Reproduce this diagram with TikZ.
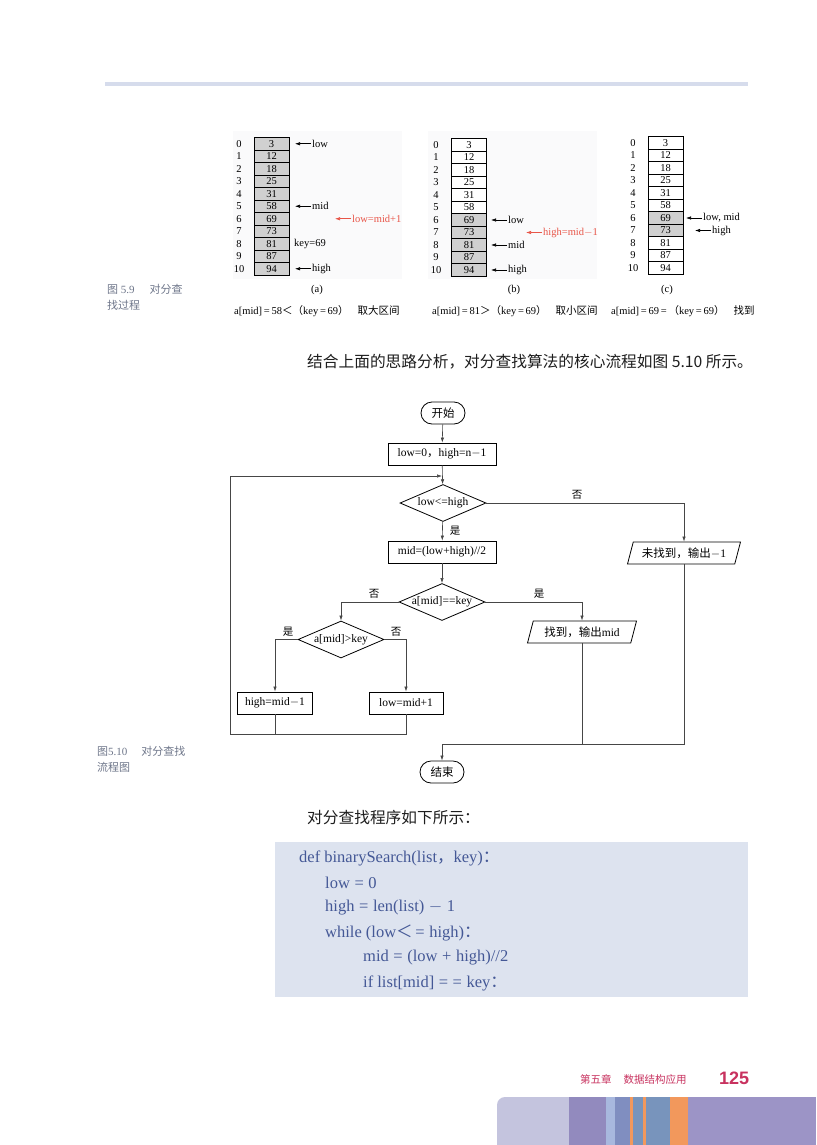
\documentclass[tikz,border=0pt]{standalone}
\usepackage{fontspec}
\setmainfont{Liberation Serif}
\newfontfamily\cjk{Noto Sans CJK SC}
\newfontfamily\sansb{Liberation Sans}
\usetikzlibrary{shapes.geometric,arrows.meta}
\definecolor{rulebl}{RGB}{214,220,236}
\definecolor{capcol}{RGB}{110,118,138}
\definecolor{redlab}{RGB}{232,85,72}
\definecolor{cellgr}{RGB}{208,208,208}
\definecolor{panel}{RGB}{250,250,251}
\definecolor{codebg}{RGB}{221,227,239}
\definecolor{codefg}{RGB}{68,88,150}
\definecolor{footpk}{RGB}{200,50,95}
\definecolor{barA}{RGB}{196,196,222}
\definecolor{barB}{RGB}{146,138,190}
\definecolor{barC}{RGB}{168,184,222}
\definecolor{barD}{RGB}{128,142,192}
\definecolor{barE}{RGB}{120,148,188}
\definecolor{barO}{RGB}{242,152,92}
\definecolor{barF}{RGB}{156,148,198}
\definecolor{txt}{RGB}{30,30,30}
\definecolor{lnk}{RGB}{70,70,70}
\newcommand{\fsa}{\fontsize{10.5}{12}\selectfont}
\newcommand{\fsb}{\fontsize{11.5}{13.5}\selectfont}
\newcommand{\fsc}{\fontsize{15.7}{18}\selectfont}
\newcommand{\fsd}{\fontsize{16.5}{19}\selectfont}
\newcommand{\fcap}{\fontsize{11}{13}\selectfont}
\tikzset{
  cell/.style={draw, line width=0.6pt, minimum width=35pt, minimum height=12.5pt, inner sep=0pt, font=\fsa},
  idx/.style={inner sep=0pt, font=\fsa},
  lab/.style={anchor=west, inner sep=1pt, font=\fsa},
  sarr/.style={line width=0.6pt, -{Latex[length=5pt,width=3.4pt]}},
  figcap/.style={anchor=west, inner sep=0pt, font=\fcap, text=capcol},
  proc/.style={draw, line width=0.8pt, minimum width=108pt, minimum height=22pt, inner sep=1pt, font=\fsb},
  dec/.style={draw, diamond, aspect=2.4, line width=0.8pt, minimum width=86pt, minimum height=37pt, inner sep=0pt, font=\fsb},
  term/.style={draw, rounded corners=11pt, line width=0.8pt, minimum width=44pt, minimum height=22pt, inner sep=1pt, font=\fsb\cjk},
  io/.style={draw, trapezium, trapezium left angle=66, trapezium right angle=114, trapezium stretches body=true, line width=0.8pt, minimum height=22pt, inner sep=1pt, font=\fsb},
  conn/.style={line width=0.6pt, draw=lnk},
  arr/.style={conn, -{Latex[length=5pt,width=3.4pt]}},
  yn/.style={inner sep=0pt, font=\fsa\cjk},
  codeln/.style={anchor=west, inner sep=0pt, font=\fsd, text=codefg},
}
\begin{document}
\begin{tikzpicture}[x=1pt,y=-1pt]
\useasboundingbox (0,0) rectangle (816,1145);
\fill[white] (0,0) rectangle (816,1145);
% top rule
\fill[rulebl] (105,82) rectangle (748,86);

% ---------- Figure 5.9 ----------
\fill[panel] (233,131) rectangle (402,279);
\fill[panel] (428,131) rectangle (597,279);
% (a)
\foreach \v [count=\i from 0] in {3,12,18,25,31,58,69,73,81,87,94}{
  \node[cell, fill=cellgr] (a\i) at (271.5,143.75+12.5*\i) {\v};
  \node[idx] (ai\i) at (239,143.75+12.5*\i) {\i};
}
\node[lab] (aLow) at (311,143.75) {low};
\draw[sarr] (aLow.west) -- ++(-16,0);
\node[lab] (aMid) at (311,206.25) {mid};
\draw[sarr] (aMid.west) -- ++(-16,0);
\node[lab] (aHigh) at (311,268.75) {high};
\draw[sarr] (aHigh.west) -- ++(-16,0);
\node[lab] (aKey) at (293,243.75) {key=69};
\node[lab, text=redlab] (aRed) at (351,218.75) {low=mid+1};
\draw[sarr, redlab] (aRed.west) -- ++(-16,0);
\node[inner sep=0pt, font=\fsa] (capA) at (317,290) {(a)};
\node[anchor=west, inner sep=0pt, font=\fsa] (resA) at (234,311) {a[mid]\,=\,58{\cjk ＜（}key\,=\,69{\cjk ）}\hspace{9pt}{\cjk 取大区间}};
% (b)
\foreach \v [count=\i from 0] in {3,12,18,25,31,58,69,73,81,87,94}{
  \ifnum\i>5 \def\fc{cellgr}\else\def\fc{white}\fi
  \node[cell, fill=\fc] (b\i) at (469,145+12.5*\i) {\v};
  \node[idx] (bi\i) at (436,145+12.5*\i) {\i};
}
\node[lab] (bLow) at (507,220) {low};
\draw[sarr] (bLow.west) -- ++(-16,0);
\node[lab] (bMid) at (507,245) {mid};
\draw[sarr] (bMid.west) -- ++(-16,0);
\node[lab] (bHigh) at (507,270) {high};
\draw[sarr] (bHigh.west) -- ++(-16,0);
\node[lab, text=redlab] (bRed) at (542,232.5) {high=mid$-$1};
\draw[sarr, redlab] (bRed.west) -- ++(-16,0);
\node[inner sep=0pt, font=\fsa] (capB) at (514,290) {(b)};
\node[anchor=west, inner sep=0pt, font=\fsa] (resB) at (432,311) {a[mid]\,=\,81{\cjk ＞（}key\,=\,69{\cjk ）}\hspace{9pt}{\cjk 取小区间}};
% (c)
\foreach \v [count=\i from 0] in {3,12,18,25,31,58,69,73,81,87,94}{
  \def\fc{white}\ifnum\i=6 \def\fc{cellgr}\fi\ifnum\i=7 \def\fc{cellgr}\fi
  \node[cell, fill=\fc] (c\i) at (665.5,143+12.5*\i) {\v};
  \node[idx] (ci\i) at (633,143+12.5*\i) {\i};
}
\node[lab] (cLow) at (702,218) {low, mid};
\draw[sarr] (cLow.west) -- ++(-16,0);
\node[lab] (cHigh) at (711,230.5) {high};
\draw[sarr] (cHigh.west) -- ++(-16,0);
\node[inner sep=0pt, font=\fsa] (capC) at (667,290) {(c)};
\node[anchor=west, inner sep=0pt, font=\fsa] (resC) at (611,311) {a[mid]\,=\,69\,=\,{\cjk （}key\,=\,69{\cjk ）}\hspace{9pt}{\cjk 找到}};
% caption 5.9
\node[figcap] (f59a) at (107,289) {{\cjk 图} 5.9\hspace{15pt}{\cjk 对分查}};
\node[figcap] (f59b) at (107,305) {\cjk 找过程};

% body text
\node[anchor=west, inner sep=0pt, font=\fsc\cjk, text=txt] (intro) at (307,362) {结合上面的思路分析，对分查找算法的核心流程如图 5.10 所示。};

% ---------- Flowchart ----------
\node[term] (start) at (443,413) {开始};
\node[proc] (init) at (442,454) {low=0{\cjk ，}high=n$-$1};
\node[dec] (cond1) at (443,503) {low<=high};
\node[proc] (mid) at (442,552) {mid=(low+high)//2};
\node[io, minimum width=113pt] (notfound) at (684,553) {{\cjk 未找到，输出}$-$1};
\node[dec] (cond2) at (442,602) {a[mid]==key};
\node[io, minimum width=109pt] (found) at (582,632) {{\cjk 找到，输出}mid};
\node[dec] (cond3) at (341,639.5) {a[mid]>key};
\node[proc, minimum width=75pt] (hbox) at (275,703) {high=mid$-$1};
\node[proc, minimum width=74pt] (lbox) at (406,703) {low=mid+1};
\node[term] (finish) at (442,772) {结束};

\coordinate (loopBL) at (230,734);
\coordinate (loopTL) at (230,476);
\coordinate (loopIn) at (442,476);
\coordinate (mergeY) at (0,744);

\draw[arr] (start) -- (init);
\draw[arr] (init) -- (cond1);
\draw[arr] (cond1) -- (mid);
\draw[arr] (cond1.east) -| (notfound.north);
\draw[arr] (mid) -- (cond2);
\draw[arr] (cond2.west) -| (cond3.north);
\draw[arr] (cond2.east) -| (found.north);
\draw[arr] (cond3.west) -| (hbox.north);
\draw[arr] (cond3.east) -| (lbox.north);
\draw[conn] (hbox.south) -- (hbox.south |- loopBL);
\draw[arr] (lbox.south) |- (loopBL) -- (loopTL) -- (loopIn);
\draw[conn] (found.south) -- (found.south |- mergeY);
\draw[arr] (notfound.south) |- (finish.north |- mergeY) -- (finish.north);

\node[yn] (n1) at (577,495) {否};
\node[yn] (y1) at (455,531) {是};
\node[yn] (n2) at (374,594) {否};
\node[yn] (y2) at (539,594) {是};
\node[yn] (y3) at (288,632) {是};
\node[yn] (n3) at (396,632) {否};

% caption 5.10
\node[figcap] (f510a) at (97,751) {{\cjk 图}5.10\hspace{14pt}{\cjk 对分查找}};
\node[figcap] (f510b) at (97,767) {\cjk 流程图};

% ---------- Code ----------
\node[anchor=west, inner sep=0pt, font=\fsc\cjk, text=txt] (codeintro) at (307,818) {对分查找程序如下所示：};
\fill[codebg] (275,842) rectangle (748,997);
\node[codeln] (l1) at (299,858) {def binarySearch(list{\cjk ，}key){\cjk ：}};
\node[codeln] (l2) at (325,883) {low\;=\;0};
\node[codeln] (l3) at (325,908) {high\;=\;len(list)\;$-$\;1};
\node[codeln] (l4) at (325,933) {while (low{\cjk ＜}\,=\;high){\cjk ：}};
\node[codeln] (l5) at (363,958) {mid\;=\;(low\;+\;high)//2};
\node[codeln] (l6) at (363,983) {if list[mid]\;=\;=\;key{\cjk ：}};

% ---------- Footer ----------
\node[anchor=west, inner sep=0pt, text=footpk, font=\fontsize{10.5}{12}\selectfont\cjk] (foot) at (580,1079) {第五章\hspace{12pt}数据结构应用};
\node[anchor=west, inner sep=0pt, text=footpk, font=\fontsize{18}{20}\selectfont\sansb\bfseries] (pnum) at (719,1078) {125};
\fill[barA, rounded corners=8pt] (497,1097) rectangle (590,1160);
\fill[barB] (569,1097) rectangle (606,1145);
\fill[barC] (606,1097) rectangle (615,1145);
\fill[barD] (615,1097) rectangle (630,1145);
\fill[barO] (630,1097) rectangle (632.5,1145);
\fill[barE] (632.5,1097) rectangle (643,1145);
\fill[barO] (643,1097) rectangle (646,1145);
\fill[barE] (646,1097) rectangle (670,1145);
\fill[barO] (670,1097) rectangle (688,1145);
\fill[barF] (688,1097) rectangle (816,1145);
\end{tikzpicture}
\end{document}
